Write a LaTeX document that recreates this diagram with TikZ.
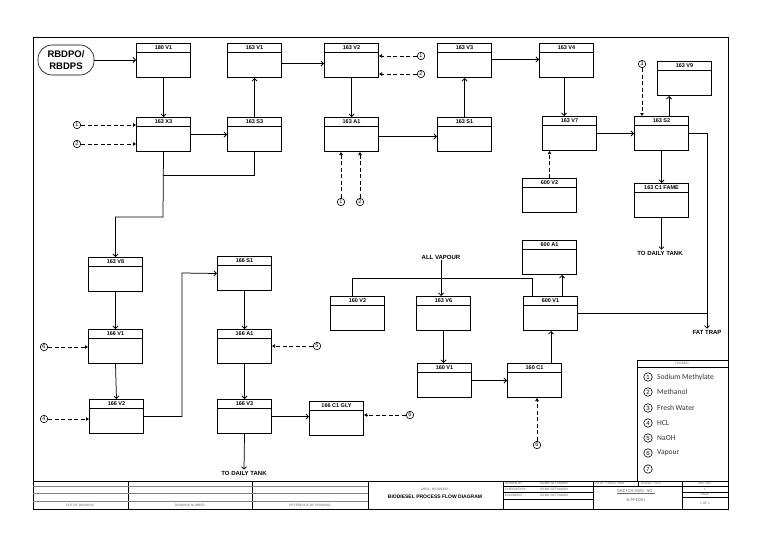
\documentclass[tikz,border=0pt]{standalone}
\usepackage{fontspec}
\setmainfont{Liberation Sans}
\newfontfamily\legfont{Carlito}
\usetikzlibrary{arrows.meta,calc}
\tikzset{
  ebox/.style={draw, line width=1pt, minimum width=54pt, minimum height=34pt, inner sep=0pt, anchor=north west},
  flow/.style={line width=0.75pt, -{Straight Barb[length=2.5pt,width=5pt]}},
  plain/.style={line width=0.75pt},
  feed/.style={line width=0.75pt, dash pattern=on 4pt off 2.5pt, -{Triangle[open,length=3pt,width=3.5pt]}},
  numc/.style={circle, draw, line width=0.6pt, inner sep=0pt, minimum size=7.5pt, font=\fontsize{5.5}{5.5}\selectfont},
  legc/.style={circle, draw, line width=0.6pt, inner sep=0pt, minimum size=8.5pt, font=\fontsize{6}{6}\selectfont},
  lab/.style={font=\bfseries\fontsize{6}{7}\selectfont, inner sep=1pt},
  tb/.style={font=\fontsize{3.2}{3.6}\selectfont, text=black!60, inner sep=0pt},
  frame/.style={line width=0.8pt},
  thin/.style={line width=0.3pt, black!50}
}
\newcommand\eqbox[4]{%
  \node[ebox] (#1) at (#2,#3) {};
  \draw[line width=0.8pt] ([yshift=-9pt]#1.north west) -- ([yshift=-9pt]#1.north east);
  \node[font=\bfseries\fontsize{5.5}{5.5}\selectfont, inner sep=0pt] at ([yshift=-4.6pt]#1.north) {#4};
}
\begin{document}
\begin{tikzpicture}[x=1pt,y=-1pt]
\useasboundingbox (0,0) rectangle (768,543);
\fill[white] (0,0) rectangle (768,543);
% frame
\draw[frame] (33,37) rectangle (728,509);

% feed stock
\node[draw, line width=0.6pt, rounded corners=14pt, minimum width=56pt, minimum height=30pt, inner sep=0pt, align=center,
  font=\bfseries\fontsize{9.5}{12}\selectfont] (rb) at (66,60) {RBDPO/\\RBDPS};

% equipment boxes
\eqbox{b180V1}{136}{43}{180 V1}
\eqbox{b163V1}{227}{43}{163 V1}
\eqbox{b163V2}{324}{43}{163 V2}
\eqbox{b163V3}{437}{43}{163 V3}
\eqbox{b163V4}{539}{43}{163 V4}
\eqbox{b163V9}{657}{61}{163 V9}
\eqbox{b163X3}{136}{117}{163 X3}
\eqbox{b163S3}{227}{117}{163 S3}
\eqbox{b163A1}{324}{117}{163 A1}
\eqbox{b163S1}{437}{117}{163 S1}
\eqbox{b163V7}{542}{116}{163 V7}
\eqbox{b163S2}{634}{116}{163 S2}
\eqbox{b600V2}{522}{178}{600 V2}
\eqbox{bFAME}{634}{183}{163 C1 FAME}
\eqbox{b600A1}{522}{240}{600 A1}
\eqbox{b163V8}{88}{257}{163 V8}
\eqbox{b166S1}{217}{256}{166 S1}
\eqbox{b160V2}{330}{296}{160 V2}
\eqbox{b163V6}{416}{296}{163 V6}
\eqbox{b600V1}{523}{296}{600 V1}
\eqbox{b166V1}{88}{329}{166 V1}
\eqbox{b166A1}{217}{329}{166 A1}
\eqbox{b160V1}{417}{363}{160 V1}
\eqbox{b160C1}{507}{363}{160 C1}
\eqbox{b166V2}{89}{399}{166 V2}
\eqbox{b166V3}{217}{399}{166 V3}
\eqbox{bGLY}{309}{401}{166 C1 GLY}

% chemical feed markers
\node[numc] (f1a) at (77,125) {1};
\node[numc] (f2a) at (77,144) {2};
\node[numc] (f1b) at (421,56) {1};
\node[numc] (f2b) at (421,74) {2};
\node[numc] (f1c) at (341,202) {1};
\node[numc] (f2c) at (360,202) {2};
\node[numc] (f3a) at (642,64) {3};
\node[numc] (f6a) at (44,347) {6};
\node[numc] (f4a) at (44,419) {4};
\node[numc] (f5a) at (317,346) {5};
\node[numc] (f6b) at (410,415) {6};
\node[numc] (f6c) at (537,445) {6};

% text labels
\node[lab] (tdt1) at (660,253) {TO DAILY TANK};
\node[lab] (tdt2) at (244,473) {TO DAILY TANK};
\node[lab] (ft) at (707,332) {FAT TRAP};
\node[lab] (av) at (441,257) {ALL VAPOUR};

% dashed feeds
\draw[feed] (f1a) -- (f1a -| b163X3.west);
\draw[feed] (f2a) -- (f2a -| b163X3.west);
\draw[feed] (f1b) -- (f1b -| b163V2.east);
\draw[feed] (f2b) -- (f2b -| b163V2.east);
\draw[feed] (f1c) -- (f1c |- b163A1.south);
\draw[feed] (f2c) -- (f2c |- b163A1.south);
\draw[feed] (f3a) -- (f3a |- b163S2.north);
\draw[feed] (b600V2.north) -- (b600V2.north |- b163V7.south);
\draw[feed] (f6a) -- (f6a -| b166V1.west);
\draw[feed] (f4a) -- (f4a -| b166V2.west);
\draw[feed] (f5a) -- (f5a -| b166A1.east);
\draw[feed] (f6b) -- (f6b -| bGLY.east);
\draw[feed] (f6c) -- (f6c |- b160C1.south);

% main process lines (top section)
\draw[flow] (rb.east) -- (rb.east -| b180V1.west);
\draw[flow] (b180V1.south) -- (b163X3.north);
\draw[flow] (b163X3.east) -- (b163S3.west);
\draw[flow] (b163S3.north) -- (b163V1.south);
\draw[flow] ([yshift=-3pt]b163V1.east) -- ([yshift=-3pt]b163V1.east -| b163V2.west);
\draw[flow] (b163V2.south) -- (b163A1.north);
\draw[flow] ([yshift=-2pt]b163A1.east) -- ([yshift=-2pt]b163A1.east -| b163S1.west);
\draw[flow] (b163S1.north) -- (b163V3.south);
\draw[flow] ([yshift=1pt]b163V3.east) -- ([yshift=1pt]b163V3.east -| b163V4.west);
\coordinate (v4o) at (564,77);
\draw[flow] (v4o) -- (v4o |- b163V7.north);
\draw[flow] (b163V7.east) -- (b163S2.west);
\coordinate (s2o) at (669,116);
\draw[flow] (s2o) -- (s2o |- b163V9.south);
\draw[flow] (b163S2.south) -- (bFAME.north);
\draw[flow] (bFAME.south) -- (tdt1.north -| bFAME.south);
\draw[flow] (b163S2.east) -| (ft.north);
\draw[plain] (b600V1.east) -- (b600V1.east -| ft.north);

% to glycerine section
\coordinate (k1) at (163,217);
\coordinate (k2) at (163,175);
\draw[flow] (b163X3.south) -- (k1) -| (b163V8.north);
\draw[plain] (b163S3.south) |- (k2);
\draw[flow] (b163V8.south) -- (b166V1.north);
\draw[flow] (b166V1.south) -- (b166V2.north);
\coordinate (k3) at (182,273);
\draw[flow] (b166V2.east) -| (k3) -- (b166S1.west);
\draw[flow] (b166S1.south) -- (b166A1.north);
\draw[flow] (b166A1.south) -- (b166V3.north);
\draw[flow] (b166V3.east) -- (b166V3.east -| bGLY.west);
\draw[flow] (b166V3.south) -- (tdt2.north);

% vapour section
\coordinate (hl) at (352,278);
\coordinate (hr) at (532,278);
\draw[plain] (hl |- b160V2.north) -- (hl) -- (hr) -- (hr |- b600V1.north);
\draw[flow] (av.south) -- (av.south |- b163V6.north);
\draw[flow] (b163V6.south) -- (b163V6.south |- b160V1.north);
\draw[flow] (b160V1.east) -- (b160V1.east -| b160C1.west);
\coordinate (c1o) at (551,363);
\draw[flow] (c1o) -- (c1o |- b600V1.south);
\coordinate (v1o) at (562,296);
\draw[flow] (v1o) -- (v1o |- b600A1.south);

% legend
\draw[frame] (637,360) rectangle (728,481);
\draw[line width=0.8pt] (637,367) -- (728,367);
\node[tb] at (682,363.5) {LEGEND};
\foreach \n/\t/\y in {1/Sodium Methylate/377, 2/Methanol/392, 3/Fresh Water/408, 4/HCL/423, 5/NaOH/438, 6/Vapour/453, 7/{}/469} {
  \node[legc] (lg\n) at (648,\y) {\n};
  \node[anchor=west, inner sep=0pt, font=\legfont\fontsize{7.6}{8}\selectfont, text=black!80] at (657,\y) {\t};
}

% title block
\draw[frame] (33,481) -- (728,481);
\foreach \x in {128,252,368,503,593,682} {\draw[frame] (\x,481) -- (\x,509);}
\foreach \y in {486,493,501} {\draw[thin] (33,\y) -- (368,\y);}
\node[tb] at (80,505) {FILE OF DRAWING};
\node[tb] at (190,505) {DRAWING NUMBER};
\node[tb] at (310,505) {REFERENCE OF DRAWING};
\node[tb] at (435,489) {AREA : BIODIESEL};
\node[inner sep=0pt, font=\bfseries\fontsize{5}{6}\selectfont] at (435,497) {BIODIESEL PROCESS FLOW DIAGRAM};
\foreach \y in {486,492,499} {\draw[line width=0.6pt] (503,\y) -- (593,\y);}
\node[tb, anchor=west] at (505,483.5) {DRAWN BY};
\node[tb, anchor=west] at (505,489) {CHECKED BY};
\node[tb, anchor=west] at (505,495.5) {ENGINEER};
\foreach \y in {483.5,489,495.5} {\node[tb, anchor=west] at (540,\y) {GEMA SETYAWAN};}
\draw[line width=0.6pt] (593,486) -- (682,486);
\draw[line width=0.6pt] (638,481) -- (638,486);
\node[tb, anchor=west] at (595,483.5) {DATE : Feb 02 2020};
\node[tb, anchor=west] at (641,483.5) {SCALE : NTS};
\node[tb, font=\fontsize{4}{5}\selectfont] (sk) at (636,491) {SKETCH DWG. NO :};
\draw[line width=0.3pt, black!60] ([yshift=-0.6pt]sk.south west) -- ([yshift=-0.6pt]sk.south east);
\node[tb, font=\fontsize{4}{5}\selectfont] at (636,500) {B-PFD001};
\foreach \y in {486,492,497} {\draw[line width=0.6pt] (682,\y) -- (728,\y);}
\node[tb] at (705,483.5) {REF. NO.};
\node[tb] at (705,489) {1};
\node[tb] at (705,494.5) {PAGE};
\node[tb] at (705,503) {1 OF 1};
\end{tikzpicture}
\end{document}
